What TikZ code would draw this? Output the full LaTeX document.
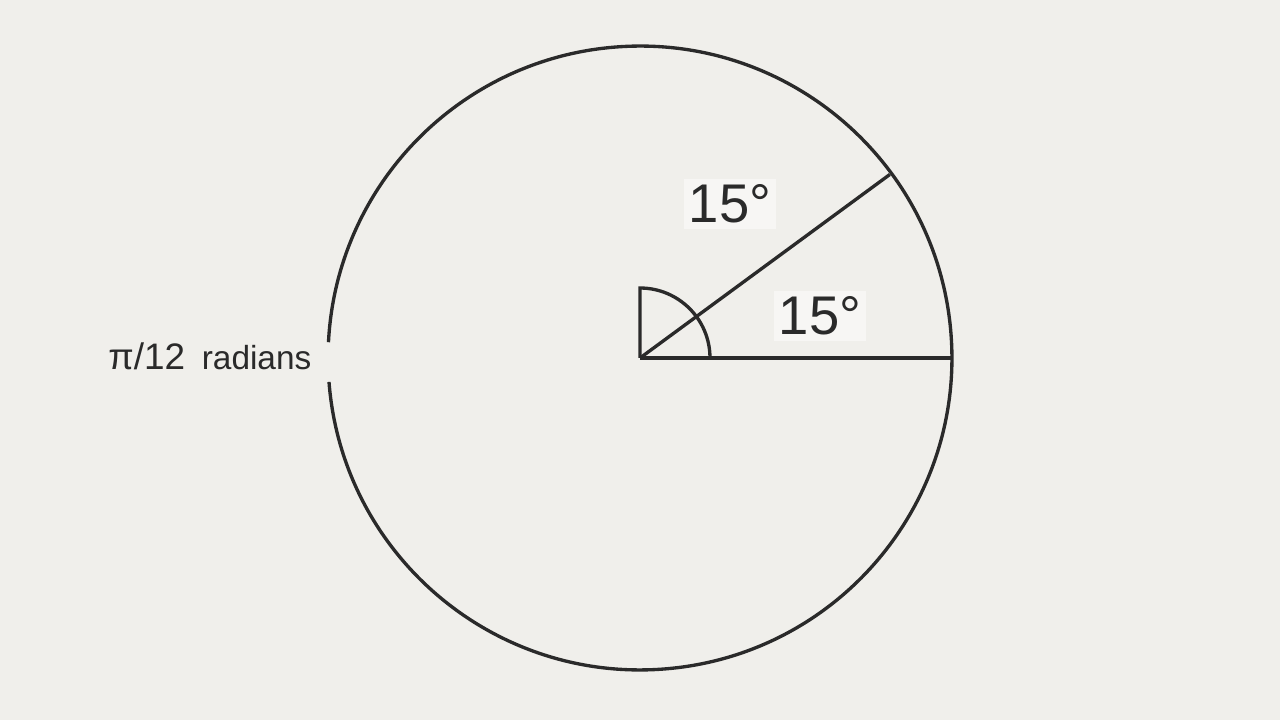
\documentclass[tikz,border=0pt]{standalone}
\usepackage{fontspec}
\setmainfont{Liberation Sans}
\usetikzlibrary{positioning}
\definecolor{paper}{HTML}{F0EFEB}
\definecolor{ink}{HTML}{2A2A2A}

\begin{document}
\begin{tikzpicture}[x=0.02cm, y=0.02cm, line width=1.9pt,
                    deg/.style={text=ink, fill=paper!55!white, inner sep=3pt,
                                font=\fontsize{31}{36}\selectfont},
                    rad/.style={text=ink, anchor=east, inner sep=0pt,
                                font=\fontsize{19}{23}\selectfont}]
      \fill[paper] (0,0) rectangle (1280,720);
      \useasboundingbox (0,0) rectangle (1280,720);

      \coordinate (O) at (640,362);
      \path (O) ++(36.3:6.2cm) coordinate (R1);
      \path (O) ++(0:6.24cm) coordinate (R0);

      % circle, open where the label sits
      \draw[ink] (O) ++(184.4:6.24cm) arc[start angle=184.4, end angle=537.1, radius=6.24cm];

      \begin{scope}[draw=ink]
          \draw[ink] (O) -- (R1);
          \draw[ink] (O) -- (R0);
          \draw[ink] (O) -- ++(0,1.4cm) arc[start angle=90, end angle=0, radius=1.4cm];
      \end{scope}

      \node[deg] (A1) at (730,516) {15°};
      \node[deg] (A2) at (820,404) {15°};
      \node[rad] (L) at (313,364) {{\fontsize{21}{25}\selectfont π/12}\hspace{0.5em}radians};
\end{tikzpicture}
\end{document}
